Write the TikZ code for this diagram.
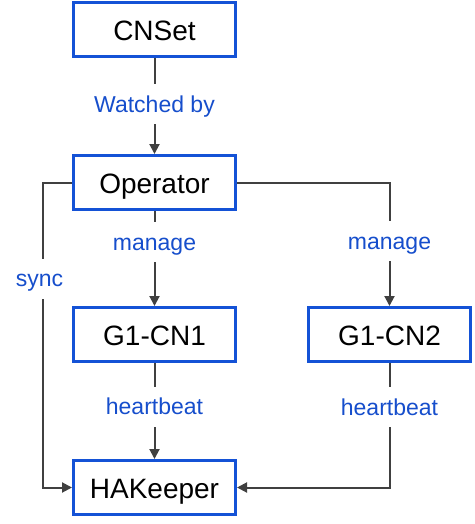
\documentclass[tikz,border=0pt]{standalone}
\usepackage{fontspec}
\setmainfont{Liberation Sans}
\usetikzlibrary{arrows.meta}
\definecolor{boxblue}{RGB}{20,82,214}
\definecolor{lblblue}{RGB}{22,78,204}
\definecolor{linegray}{RGB}{64,64,64}
\begin{document}
\begin{tikzpicture}[x=1pt,y=-1pt,
 box/.style={draw=boxblue,line width=3pt,minimum width=162pt,minimum height=54pt,inner sep=0pt,font=\fontsize{28}{30}\selectfont,text height=22pt,text depth=0pt},
 lbl/.style={fill=white,text=lblblue,font=\fontsize{23}{25}\selectfont,inner xsep=2pt,inner ysep=0pt,minimum height=40pt,text height=16pt,text depth=0pt},
 conn/.style={draw=linegray,line width=2pt,-{Triangle[length=10pt,width=10pt]}}]
\useasboundingbox (0,0) rectangle (474,524);
\node[box] (cnset) at (154.5,29.75) {CNSet};
\node[box] (op) at (154.5,182.5) {Operator};
\node[box] (cn1) at (154.5,334.5) {G1-CN1};
\node[box] (cn2) at (389.5,334.5) {G1-CN2};
\node[box] (hak) at (154.5,487.5) {HAKeeper};
\coordinate (sl) at (43,182.5);
\coordinate (sl2) at (43,487.5);
\coordinate (rc) at (389.5,182.5);
\coordinate (rb) at (389.5,487.5);
\draw[conn] (cnset) -- node[lbl,pos=0.48] {Watched by} (op);
\draw[conn] (op) -- node[lbl,pos=0.33] {manage} (cn1);
\draw[conn] (op.east) -- (rc) -- node[lbl,pos=0.476] {manage} (cn2.north);
\draw[conn] (cn1) -- node[lbl,pos=0.455] {heartbeat} (hak);
\draw[conn] (cn2.south) -- node[lbl,pos=0.357] {heartbeat} (rb) -- (hak.east);
\draw[conn] (op.west) -- (sl) -- node[lbl,pos=0.316,xshift=-3.5pt] {sync} (sl2) -- (hak.west);
\end{tikzpicture}
\end{document}
